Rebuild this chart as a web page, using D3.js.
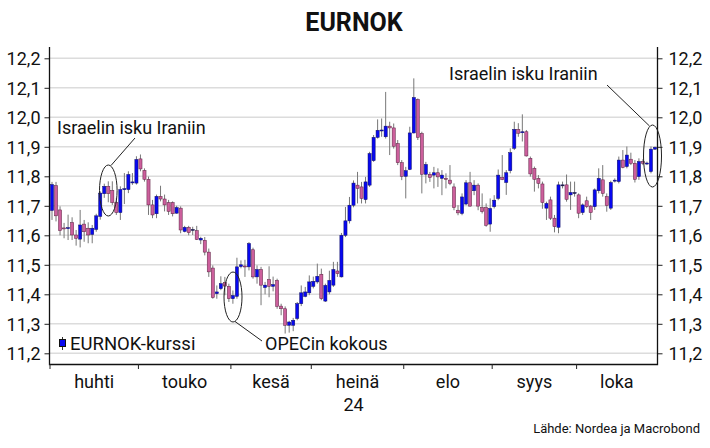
<!DOCTYPE html>
<html><head><meta charset="utf-8">
<script src="https://cdn.jsdelivr.net/npm/d3@7"></script>
<style>body{margin:0;background:#fff}svg{display:block}text{font-family:Roboto,"Open Sans",sans-serif;fill:#111}</style>
</head><body><svg id="c" width="710" height="448"></svg>
<script>
const open = [
11.684,11.768,11.686,11.625,11.624,11.643,11.601,11.587,11.638,11.624,
11.603,11.620,11.664,11.741,11.766,11.752,11.711,11.677,11.755,11.755,
11.780,11.777,11.859,11.820,11.790,11.703,11.673,11.732,11.723,11.711,
11.711,11.675,11.692,11.613,11.627,11.620,11.616,11.584,11.583,11.543,
11.489,11.402,11.419,11.440,11.427,11.385,11.393,11.494,11.496,11.493,
11.551,11.459,11.484,11.423,11.450,11.427,11.447,11.360,11.351,11.295,
11.295,11.318,11.368,11.393,11.405,11.427,11.442,11.468,11.377,11.408,
11.431,11.479,11.459,11.600,11.649,11.702,11.770,11.764,11.721,11.770,
11.853,11.932,11.956,11.934,11.970,11.964,11.911,11.846,11.800,11.823,
11.947,12.060,11.945,11.807,11.807,11.804,11.812,11.793,11.793,11.787,
11.764,11.685,11.674,11.706,11.778,11.751,11.770,11.694,11.694,11.638,
11.697,11.725,11.796,11.779,11.819,11.895,11.959,11.950,11.951,11.861,
11.827,11.793,11.774,11.692,11.720,11.658,11.627,11.771,11.771,11.737,
11.745,11.737,11.677,11.717,11.699,11.697,11.751,11.788,11.731,11.692,
11.785,11.782,11.855,11.833,11.858,11.844,11.799,11.850,11.844,11.816,
11.892];
const close = [
11.772,11.666,11.616,11.624,11.626,11.601,11.590,11.635,11.612,11.601,
11.624,11.666,11.743,11.766,11.741,11.711,11.677,11.755,11.758,11.806,
11.781,11.857,11.825,11.790,11.703,11.669,11.732,11.723,11.703,11.681,
11.673,11.694,11.618,11.627,11.609,11.620,11.586,11.590,11.543,11.476,
11.389,11.408,11.436,11.428,11.385,11.396,11.493,11.500,11.495,11.572,
11.459,11.484,11.431,11.431,11.427,11.433,11.359,11.351,11.295,11.306,
11.312,11.368,11.405,11.408,11.442,11.444,11.461,11.385,11.430,11.447,
11.484,11.470,11.600,11.649,11.702,11.777,11.759,11.725,11.781,11.877,
11.932,11.956,11.957,11.970,11.964,11.902,11.846,11.800,11.819,11.947,
12.067,11.932,11.807,11.840,11.796,11.812,11.798,11.804,11.792,11.776,
11.694,11.676,11.730,11.778,11.699,11.770,11.699,11.680,11.634,11.691,
11.719,11.804,11.789,11.812,11.880,11.959,11.946,11.951,11.869,11.808,
11.790,11.776,11.711,11.708,11.658,11.629,11.771,11.771,11.722,11.745,
11.745,11.675,11.703,11.697,11.677,11.754,11.793,11.742,11.701,11.779,
11.787,11.855,11.830,11.872,11.844,11.790,11.850,11.844,11.845,11.892,
11.898];
const high = [
11.781,11.781,11.698,11.642,11.670,11.661,11.618,11.686,11.652,11.644,
11.635,11.673,11.749,11.775,11.783,11.783,11.726,11.766,11.811,11.817,
11.811,11.868,11.874,11.827,11.799,11.720,11.738,11.768,11.738,11.720,
11.715,11.700,11.698,11.632,11.632,11.629,11.632,11.595,11.594,11.555,
11.498,11.430,11.461,11.459,11.436,11.413,11.524,11.515,11.517,11.577,
11.558,11.498,11.493,11.442,11.495,11.460,11.453,11.368,11.359,11.310,
11.320,11.374,11.430,11.425,11.464,11.460,11.504,11.487,11.436,11.480,
11.510,11.510,11.608,11.696,11.730,11.786,11.815,11.781,11.798,11.883,
11.940,11.993,11.996,12.086,11.985,11.979,11.923,11.855,11.832,11.968,
12.132,12.064,11.951,11.849,11.815,11.832,11.827,11.821,11.810,11.838,
11.776,11.702,11.742,11.787,11.815,11.787,11.776,11.742,11.708,11.725,
11.736,11.823,11.872,11.821,11.895,11.985,11.980,12.010,11.957,11.867,
11.833,11.804,11.782,11.714,11.731,11.669,11.782,11.782,11.806,11.782,
11.782,11.742,11.708,11.731,11.703,11.759,11.827,11.838,11.742,11.785,
11.793,11.867,11.889,11.901,11.880,11.855,11.861,11.858,11.850,11.901,
11.901];
const low = [
11.652,11.647,11.600,11.590,11.584,11.584,11.565,11.559,11.578,11.573,
11.573,11.612,11.653,11.727,11.712,11.703,11.669,11.652,11.706,11.743,
11.771,11.772,11.817,11.782,11.669,11.658,11.658,11.715,11.681,11.669,
11.664,11.673,11.607,11.610,11.600,11.601,11.584,11.570,11.532,11.459,
11.385,11.385,11.414,11.397,11.374,11.368,11.385,11.488,11.459,11.481,
11.453,11.436,11.363,11.400,11.390,11.410,11.351,11.329,11.267,11.270,
11.275,11.312,11.360,11.390,11.397,11.420,11.436,11.380,11.374,11.400,
11.425,11.459,11.457,11.594,11.640,11.695,11.708,11.708,11.708,11.764,
11.849,11.928,11.934,11.928,11.872,11.894,11.838,11.787,11.725,11.821,
11.945,11.923,11.742,11.776,11.781,11.759,11.764,11.736,11.759,11.770,
11.685,11.668,11.668,11.702,11.697,11.736,11.685,11.674,11.629,11.612,
11.691,11.719,11.787,11.737,11.810,11.889,11.934,11.918,11.867,11.799,
11.748,11.759,11.690,11.652,11.652,11.610,11.607,11.759,11.714,11.686,
11.731,11.658,11.669,11.692,11.652,11.686,11.742,11.731,11.680,11.686,
11.779,11.776,11.827,11.827,11.838,11.779,11.788,11.838,11.838,11.810,
11.889];
const months = ["huhti","touko","kesä","heinä","elo","syys","loka"];
const yTicks = [11.2,11.3,11.4,11.5,11.6,11.7,11.8,11.9,12.0,12.1,12.2];
const yearLabel = "24";
const title = "EURNOK";
const legendLabel = "EURNOK-kurssi";
const source = "Lähde: Nordea ja Macrobond";
const startDate = "2024-04-01";

// weekday dates
const dates = [];
let d = new Date(startDate + "T12:00:00");
while (dates.length < open.length) {
  const wd = d.getDay();
  if (wd !== 0 && wd !== 6) dates.push(new Date(d));
  d.setDate(d.getDate() + 1);
}
const idx = d3.range(open.length);

const svg = d3.select("#c");
const L = 50, R = 657, T = 47, B = 364;
const x = d3.scaleBand().domain(idx).range([L, R]).padding(0);
const y = d3.scaleLinear().domain([11.2, 12.2]).range([353.3, 58.3]);
const fmt = v => d3.format(".1f")(v).replace(".", ",");

// gridlines
svg.append("g").selectAll("line").data(yTicks).join("line")
  .attr("x1", L).attr("x2", R).attr("y1", v => y(v)).attr("y2", v => y(v))
  .attr("stroke", "#dcdcdc").attr("stroke-width", 1.5);

// axes (left/right)
const ax = d3.axisLeft(y).tickValues(yTicks).tickFormat(fmt).tickSize(5).tickPadding(4);
const gl = svg.append("g").attr("transform", `translate(${L - 0.5},0)`).call(ax);
const ar = d3.axisRight(y).tickValues(yTicks).tickFormat(fmt).tickSize(5).tickPadding(6);
const gr = svg.append("g").attr("transform", `translate(${R + 0.5},0)`).call(ar);
[gl, gr].forEach(g => {
  g.select(".domain").remove();
  g.selectAll("line").attr("stroke", "#222");
  g.selectAll("text").style("font-size", "18px").attr("fill", "#111").attr("dy", "0.35em");
});

// frame
svg.append("path")
  .attr("d", `M${L - 0.5},${T}V${B + 0.5}H${R + 0.5}V${T}`)
  .attr("fill", "none").attr("stroke", "#111").attr("stroke-width", 1.3);

// month ticks and labels
const bounds = [0];
for (let i = 1; i < dates.length; i++) if (dates[i].getMonth() !== dates[i - 1].getMonth()) bounds.push(i);
const step = x.step();
svg.append("g").selectAll("line").data(bounds).join("line")
  .attr("x1", i => x(i)).attr("x2", i => x(i)).attr("y1", B).attr("y2", B + 5)
  .attr("stroke", "#222");
const ends = bounds.slice(1).map(i => x(i)).concat([R]);
svg.append("g").selectAll("text").data(months).join("text")
  .attr("x", (m, k) => (x(bounds[k]) + ends[k]) / 2).attr("y", 388)
  .attr("text-anchor", "middle").style("font-size", "18px").text(m => m);
svg.append("text").attr("x", (L + R) / 2).attr("y", 411).attr("text-anchor", "middle")
  .style("font-size", "18px").text(yearLabel);

// candles
const bw = step * 0.78;
const cg = svg.append("g");
cg.selectAll("line").data(idx).join("line")
  .attr("x1", i => x(i) + step / 2).attr("x2", i => x(i) + step / 2)
  .attr("y1", i => y(high[i])).attr("y2", i => y(low[i]))
  .attr("stroke", "#777").attr("stroke-width", 1);
cg.selectAll("rect").data(idx).join("rect")
  .attr("x", i => x(i) + (step - bw) / 2).attr("width", bw)
  .attr("y", i => y(Math.max(open[i], close[i])))
  .attr("height", i => Math.max(1, Math.abs(y(open[i]) - y(close[i]))))
  .attr("fill", i => close[i] > open[i] ? "#0808f0" : (close[i] < open[i] ? "#cc5f9c" : "#222"))
  .attr("stroke", i => close[i] >= open[i] ? "#101060" : "#5a2040").attr("stroke-width", 0.5);

// title
svg.append("text").attr("x", 354).attr("y", 31).attr("text-anchor", "middle")
  .style("font-size", "25px").style("font-weight", "bold").text(title);

// legend
svg.append("line").attr("x1", 62.5).attr("x2", 62.5).attr("y1", 337).attr("y2", 350).attr("stroke", "#333");
svg.append("rect").attr("x", 59.5).attr("y", 339.5).attr("width", 6).attr("height", 7)
  .attr("fill", "#0808f0").attr("stroke", "#111").attr("stroke-width", 1);
svg.append("text").attr("x", 70).attr("y", 350).style("font-size", "18.5px").text(legendLabel);

// annotations
const ann = svg.append("g").attr("fill", "none").attr("stroke", "#222").attr("stroke-width", 1);
ann.append("ellipse").attr("cx", 108.3).attr("cy", 190.5).attr("rx", 8.8).attr("ry", 25.5);
ann.append("line").attr("x1", 111).attr("y1", 165.5).attr("x2", 135).attr("y2", 138);
ann.append("ellipse").attr("cx", 233).attr("cy", 297).attr("rx", 9).attr("ry", 25);
ann.append("line").attr("x1", 235).attr("y1", 321.5).attr("x2", 262).attr("y2", 341);
ann.append("ellipse").attr("cx", 652.5).attr("cy", 156).attr("rx", 9).attr("ry", 31);
ann.append("line").attr("x1", 607).attr("y1", 85).attr("x2", 649.5).attr("y2", 126);
svg.append("text").attr("x", 57).attr("y", 134).style("font-size", "18px").text("Israelin isku Iraniin");
svg.append("text").attr("x", 449).attr("y", 80).style("font-size", "18px").text("Israelin isku Iraniin");
svg.append("text").attr("x", 265).attr("y", 350).style("font-size", "18px").text("OPECin kokous");

// source
svg.append("text").attr("x", 700).attr("y", 433).attr("text-anchor", "end")
  .style("font-size", "13px").text(source);
</script></body></html>
